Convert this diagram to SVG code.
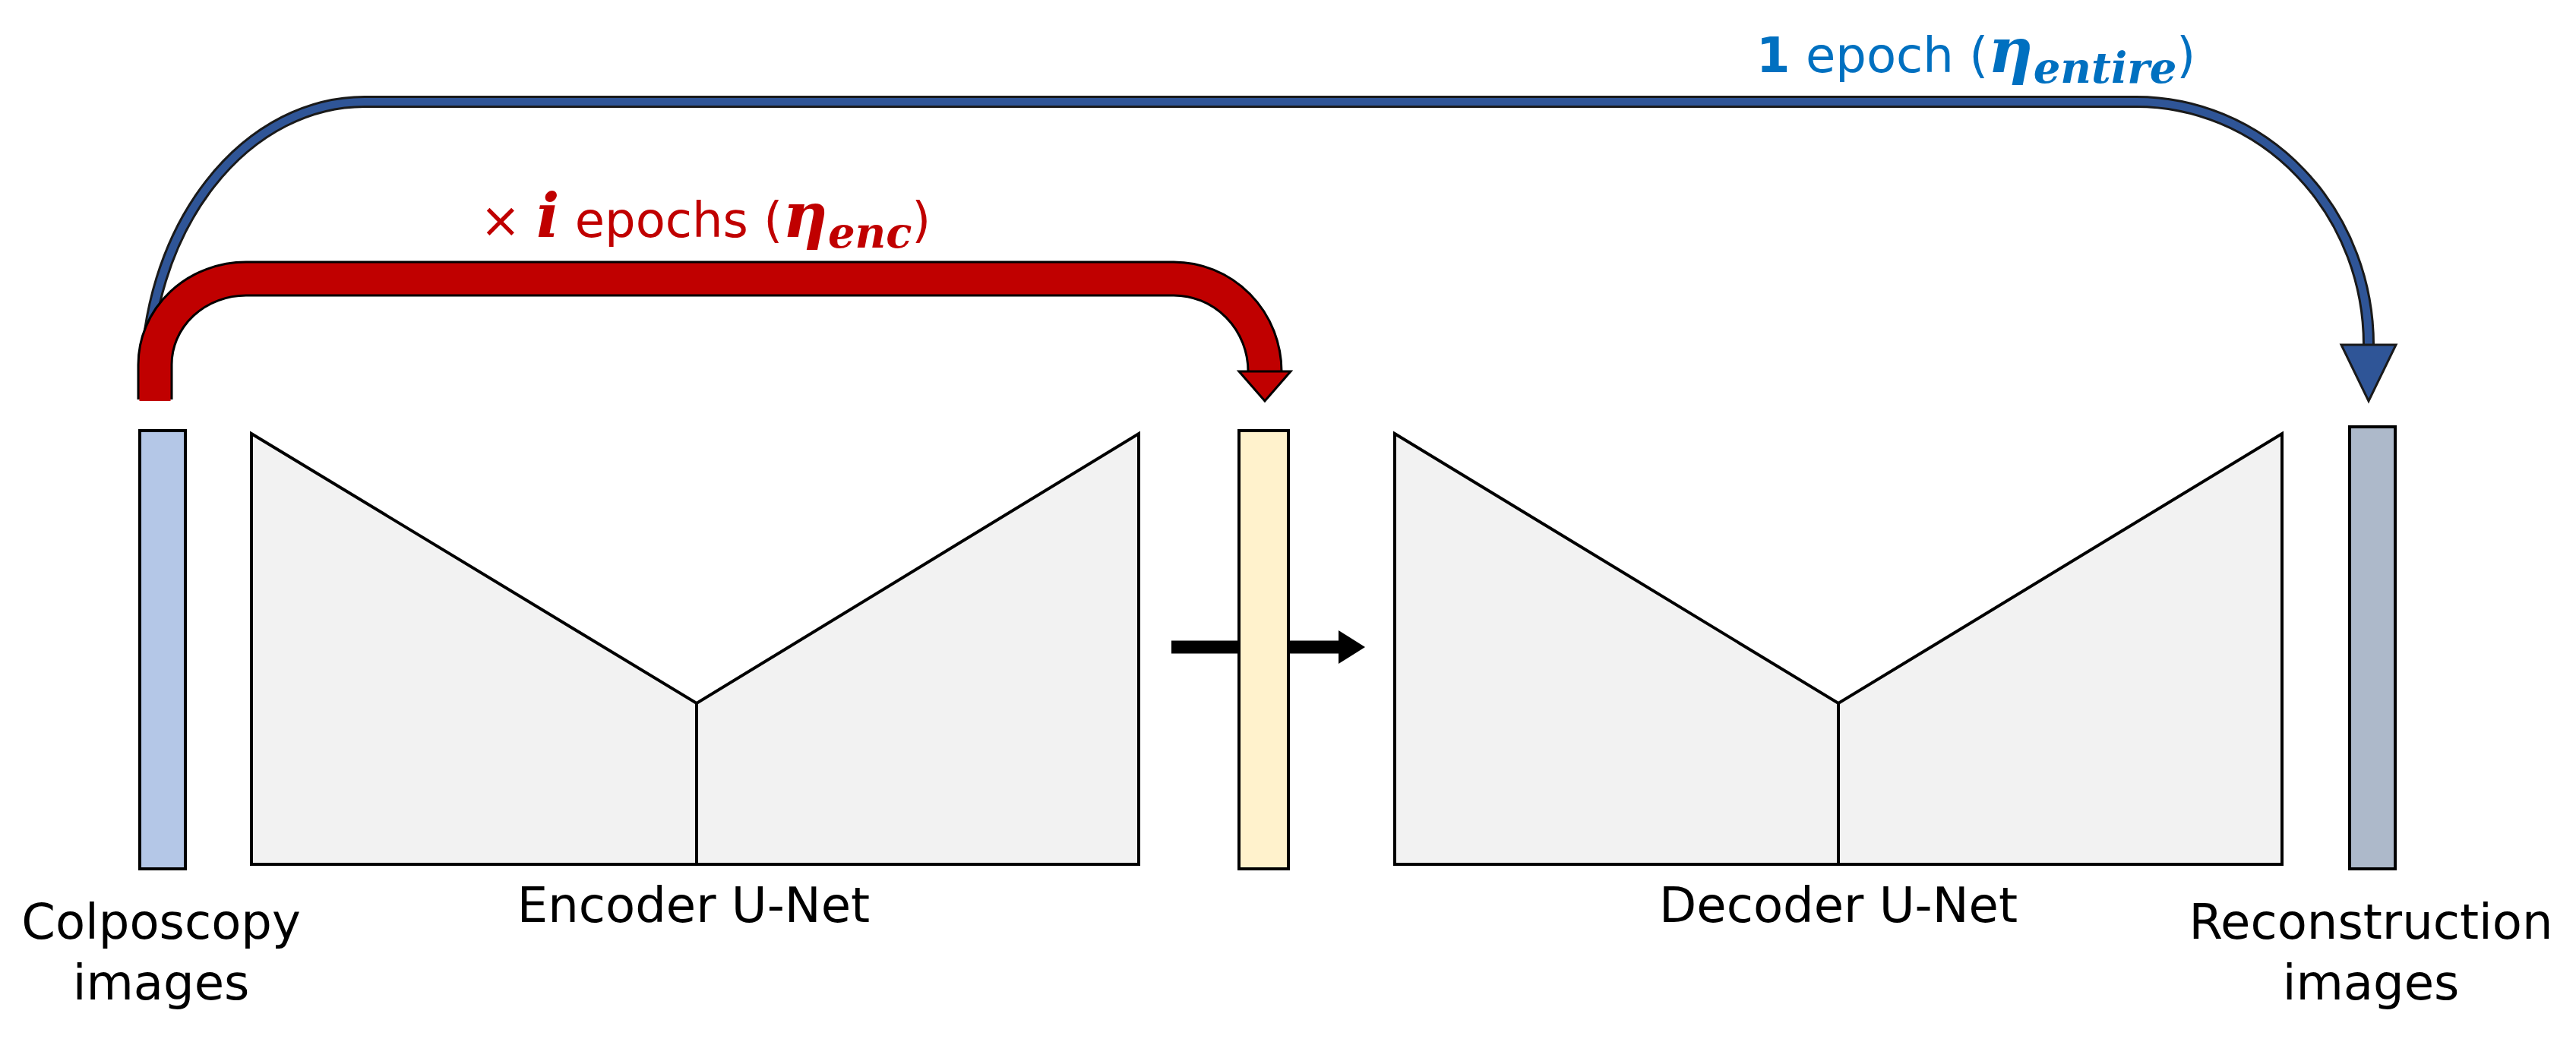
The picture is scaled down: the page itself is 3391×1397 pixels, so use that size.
<svg xmlns="http://www.w3.org/2000/svg" width="3391" height="1397" viewBox="0 0 3391 1397">
<style>
.t{font-family:"DejaVu Sans","Liberation Sans",sans-serif;font-size:64px;fill:#000;text-anchor:middle}
.u{fill:#F2F2F2;stroke:#000;stroke-width:4}
.m{font-family:"DejaVu Serif","Liberation Serif",serif;font-weight:bold;font-style:italic}
</style>
<rect width="3391" height="1397" fill="#fff"/>
<g id="connectors">
<path d="M192,520 L192,504 A288,370 0 0 1 480,134 L2812,134 A306,320 0 0 1 3118,454 L3118,458" fill="none" stroke="#1a1a1a" stroke-width="16"/>
<path d="M192,520 L192,504 A288,370 0 0 1 480,134 L2812,134 A306,320 0 0 1 3118,454 L3118,458" fill="none" stroke="#2F5597" stroke-width="10"/>
<polygon points="3082,454 3154,454 3118,528" fill="#2F5597" stroke="#1a1a1a" stroke-width="3"/>
<path d="M204,526 L204,480 A120,113 0 0 1 324,367 L1545,367 A120,122 0 0 1 1665,489 L1665,492" fill="none" stroke="#000" stroke-width="47"/>
<path d="M204,528 L204,480 A120,113 0 0 1 324,367 L1545,367 A120,122 0 0 1 1665,489 L1665,494" fill="none" stroke="#C00000" stroke-width="41"/>
<polygon points="1631,489 1699,489 1665,528" fill="#C00000" stroke="#000" stroke-width="3"/>
<line x1="1542" y1="852" x2="1765" y2="852" stroke="#000" stroke-width="17"/>
<polygon points="1762,830 1797,852 1762,874" fill="#000"/>
</g>
<g id="colposcopy">
<rect x="184" y="567" width="60" height="577" fill="#B4C7E7" stroke="#000" stroke-width="4"/>
<text class="t" x="212" y="1236">Colposcopy</text>
<text class="t" x="212" y="1316">images</text>
</g>
<g id="encoder">
<polygon class="u" points="331,571 917,926 1499,571 1499,1138 331,1138"/>
<line x1="917" y1="926" x2="917" y2="1138" stroke="#000" stroke-width="4"/>
<text class="t" x="913" y="1214">Encoder U-Net</text>
</g>
<g id="latent">
<rect x="1631" y="567" width="65" height="577" fill="#FFF2CC" stroke="#000" stroke-width="4"/>
</g>
<g id="decoder">
<polygon class="u" points="1836,571 2420,926 3004,571 3004,1138 1836,1138"/>
<line x1="2420" y1="926" x2="2420" y2="1138" stroke="#000" stroke-width="4"/>
<text class="t" x="2420" y="1214">Decoder U-Net</text>
</g>
<g id="reconstruction">
<rect x="3093" y="562" width="60" height="582" fill="#ADB9CA" stroke="#000" stroke-width="4"/>
<text class="t" x="3121" y="1236">Reconstruction</text>
<text class="t" x="3121" y="1316">images</text>
</g>
<g id="labels">
<text x="632" y="312" font-family="DejaVu Sans,sans-serif" font-size="64" fill="#C00000">× <tspan class="m" font-size="80">i</tspan> epochs (<tspan class="m" font-size="82">η</tspan><tspan class="m" font-size="56" dy="14">enc</tspan><tspan dy="-14">)</tspan></text>
<text x="2312" y="95" font-family="DejaVu Sans,sans-serif" font-size="64" fill="#0070C0"><tspan font-weight="bold">1</tspan> epoch (<tspan class="m" font-size="82">η</tspan><tspan class="m" font-size="56" dy="14">entire</tspan><tspan dy="-14">)</tspan></text>
</g>
</svg>
